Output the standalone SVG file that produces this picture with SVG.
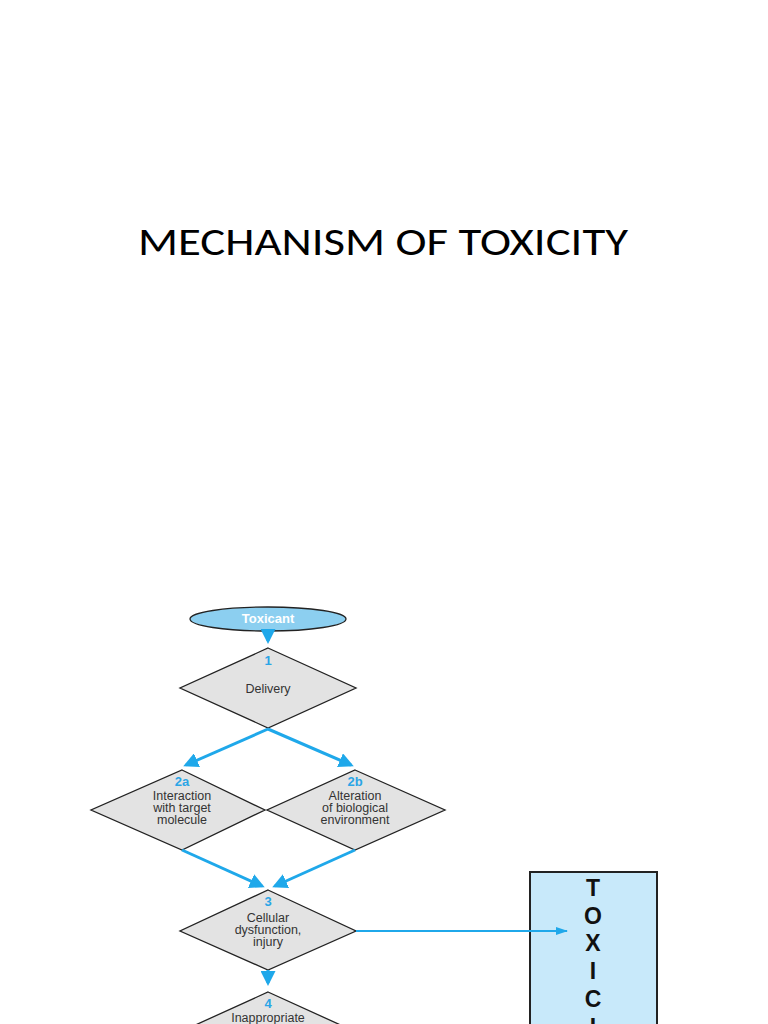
<svg xmlns="http://www.w3.org/2000/svg" width="768" height="1024" viewBox="0 0 768 1024">
<style>
.d{fill:#e3e3e3;stroke:#222;stroke-width:1.3}
.t{font-family:"Liberation Sans",Arial,sans-serif;font-size:12.5px;fill:#333;text-anchor:middle}
.n{font-family:"Liberation Sans",Arial,sans-serif;font-size:13px;font-weight:bold;fill:#2aa5e6;text-anchor:middle}
.c{stroke:#1fa8ea;stroke-width:3;fill:none}
.L{font-family:"Liberation Sans",Arial,sans-serif;font-size:23px;font-weight:bold;fill:#111;text-anchor:middle}
</style>
<defs>
<marker id="a" markerWidth="5" markerHeight="5" refX="4" refY="2.5" orient="auto" markerUnits="strokeWidth"><path d="M0,0 L5,2.5 L0,5 Z" fill="#1fa8ea"/></marker>
<marker id="b" markerWidth="12" markerHeight="8" refX="11" refY="4" orient="auto" markerUnits="userSpaceOnUse"><path d="M0,0 L12,4 L0,8 Z" fill="#1fa8ea"/></marker>
</defs>
<rect width="768" height="1024" fill="#fff"/>
<text x="383" y="255" font-family="Carlito,'Liberation Sans',sans-serif" font-size="38" text-anchor="middle" textLength="490" lengthAdjust="spacingAndGlyphs" fill="#000">MECHANISM OF TOXICITY</text>
<g id="toxicant"><ellipse cx="268" cy="619" rx="78" ry="12" fill="#8ccff0" stroke="#222" stroke-width="1.3"/><text x="268" y="623" class="t" style="fill:#fff;font-weight:bold;font-size:13px">Toxicant</text></g>
<g id="n1"><polygon class="d" points="268,648 356,688 268,728 180,688"/><text class="n" x="268" y="665">1</text><text class="t" x="268" y="693">Delivery</text></g>
<g id="n2a"><polygon class="d" points="182,770 265,810 182,850 91,810"/><text class="n" x="182" y="786">2a</text><text class="t" x="182" y="800">Interaction</text><text class="t" x="182" y="812">with target</text><text class="t" x="182" y="824">molecule</text></g>
<g id="n2b"><polygon class="d" points="355,770 445,810 355,850 267,810"/><text class="n" x="355" y="786">2b</text><text class="t" x="355" y="800">Alteration</text><text class="t" x="355" y="812">of biological</text><text class="t" x="355" y="824">environment</text></g>
<g id="n3"><polygon class="d" points="268,890 356,931 268,970 180,931"/><text class="n" x="268" y="906">3</text><text class="t" x="268" y="922">Cellular</text><text class="t" x="268" y="934">dysfunction,</text><text class="t" x="268" y="946">injury</text></g>
<g id="n4"><polygon class="d" points="268,992 356,1032 268,1072 180,1032"/><text class="n" x="268" y="1008">4</text><text class="t" x="268" y="1022">Inappropriate</text></g>
<g id="toxicity"><rect x="530" y="872" width="127" height="170" fill="#c8e9fa" stroke="#222" stroke-width="2"/>
<text class="L" x="593" y="896">T</text><text class="L" x="593" y="924">O</text><text class="L" x="593" y="951">X</text><text class="L" x="593" y="979">I</text><text class="L" x="593" y="1007">C</text><text class="L" x="593" y="1035">I</text></g>
<g id="connectors">
<path class="c" d="M268,631 V641" marker-end="url(#a)"/>
<path class="c" d="M268,729 L186,765" marker-end="url(#a)"/>
<path class="c" d="M268,729 L351,765" marker-end="url(#a)"/>
<path class="c" d="M182,850 L262,886" marker-end="url(#a)"/>
<path class="c" d="M355,850 L275,886" marker-end="url(#a)"/>
<path class="c" d="M268,970 V983" marker-end="url(#a)"/>
<path d="M356,931 H567" stroke="#1fa8ea" stroke-width="2" fill="none" marker-end="url(#b)"/>
</g>
</svg>
